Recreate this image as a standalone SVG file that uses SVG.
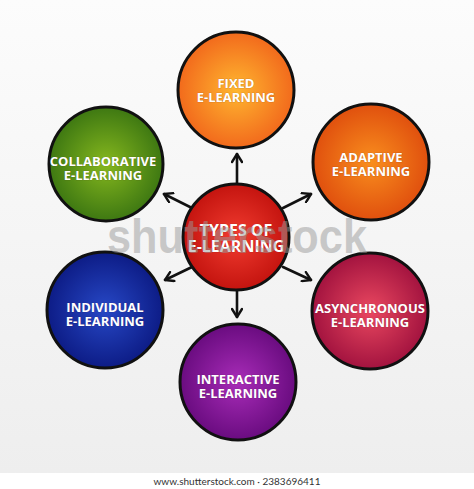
<svg xmlns="http://www.w3.org/2000/svg" width="474" height="489" viewBox="0 0 474 489">
  <style>
    .node circle { stroke: #111; stroke-width: 3; }
    .lbl { font-family: "Open Sans", "Liberation Sans", sans-serif; font-weight: 700; font-size: 13px; fill: #ffffff; text-anchor: middle; stroke: #3a0a0a; stroke-opacity: 0.35; stroke-width: 0.6; paint-order: stroke; }
    .big { font-size: 16px; }
    .conn line { stroke: #111; stroke-width: 2.6; stroke-linecap: round; }
    .wm { font-family: "Liberation Sans", sans-serif; font-weight: 700; font-size: 48px; fill: #9a9a9a; fill-opacity: 0.5; text-anchor: middle; }
    .foot { font-family: "Lato", "Liberation Sans", sans-serif; font-size: 10px; fill: #333; text-anchor: middle; }
  </style>
  <defs>
    <linearGradient id="bg" x1="0" y1="0" x2="0" y2="1">
      <stop offset="0" stop-color="#fcfcfc"/>
      <stop offset="1" stop-color="#eeeeee"/>
    </linearGradient>
    <radialGradient id="gFixed"><stop offset="0" stop-color="#ffb630"/><stop offset="1" stop-color="#f26a1c"/></radialGradient>
    <radialGradient id="gAdapt"><stop offset="0" stop-color="#f98e1e"/><stop offset="1" stop-color="#e0500e"/></radialGradient>
    <radialGradient id="gAsync"><stop offset="0" stop-color="#ea4860"/><stop offset="1" stop-color="#a3133f"/></radialGradient>
    <radialGradient id="gInter"><stop offset="0" stop-color="#a82cb8"/><stop offset="1" stop-color="#6a0c80"/></radialGradient>
    <radialGradient id="gIndiv"><stop offset="0" stop-color="#2748c6"/><stop offset="1" stop-color="#0d1c86"/></radialGradient>
    <radialGradient id="gCollab"><stop offset="0" stop-color="#86b81e"/><stop offset="1" stop-color="#3e7812"/></radialGradient>
    <radialGradient id="gCenter"><stop offset="0" stop-color="#f23c30"/><stop offset="1" stop-color="#c4140f"/></radialGradient>
    <marker id="arr" viewBox="0 0 12 12" refX="10" refY="6" markerWidth="12" markerHeight="12" markerUnits="userSpaceOnUse" orient="auto">
      <path d="M2,1 L10,6 L2,11" fill="none" stroke="#111" stroke-width="2.4" stroke-linecap="round" stroke-linejoin="round"/>
    </marker>
  </defs>

  <rect x="0" y="0" width="474" height="473" fill="url(#bg)"/>
  <rect x="0" y="473" width="474" height="16" fill="#ffffff"/>

  <g id="connectors" class="conn">
    <line x1="237" y1="183" x2="237" y2="154" marker-end="url(#arr)"/>
    <line x1="237" y1="290" x2="237" y2="317" marker-end="url(#arr)"/>
    <line x1="192" y1="208" x2="164" y2="194" marker-end="url(#arr)"/>
    <line x1="283" y1="208" x2="311" y2="194" marker-end="url(#arr)"/>
    <line x1="192" y1="267" x2="165" y2="280" marker-end="url(#arr)"/>
    <line x1="283" y1="267" x2="311" y2="280" marker-end="url(#arr)"/>
  </g>

  <g id="fixed" class="node">
    <circle cx="236" cy="90" r="58" fill="url(#gFixed)"/>
    <text class="lbl" x="236" y="88">FIXED</text>
    <text class="lbl" x="236" y="102">E-LEARNING</text>
  </g>
  <g id="adaptive" class="node">
    <circle cx="371" cy="162" r="58" fill="url(#gAdapt)"/>
    <text class="lbl" x="371" y="162">ADAPTIVE</text>
    <text class="lbl" x="371" y="176">E-LEARNING</text>
  </g>
  <g id="asynchronous" class="node">
    <circle cx="370" cy="311" r="58" fill="url(#gAsync)"/>
    <text class="lbl" x="370" y="313">ASYNCHRONOUS</text>
    <text class="lbl" x="370" y="327">E-LEARNING</text>
  </g>
  <g id="interactive" class="node">
    <circle cx="238" cy="382" r="58" fill="url(#gInter)"/>
    <text class="lbl" x="238" y="384">INTERACTIVE</text>
    <text class="lbl" x="238" y="398">E-LEARNING</text>
  </g>
  <g id="individual" class="node">
    <circle cx="105" cy="310" r="58" fill="url(#gIndiv)"/>
    <text class="lbl" x="105" y="312">INDIVIDUAL</text>
    <text class="lbl" x="105" y="326">E-LEARNING</text>
  </g>
  <g id="collaborative" class="node">
    <circle cx="106" cy="164" r="57" fill="url(#gCollab)"/>
    <text class="lbl" x="103" y="166">COLLABORATIVE</text>
    <text class="lbl" x="103" y="180">E-LEARNING</text>
  </g>
  <g id="center" class="node">
    <circle cx="236" cy="237" r="53" fill="url(#gCenter)"/>
    <text class="lbl big" x="236" y="236">TYPES OF</text>
    <text class="lbl big" x="236" y="252">E-LEARNING</text>
  </g>

  <text class="wm" x="237" y="253" textLength="260" lengthAdjust="spacingAndGlyphs">shutterstock</text>
  <text class="foot" x="237" y="485">www.shutterstock.com · 2383696411</text>
</svg>
